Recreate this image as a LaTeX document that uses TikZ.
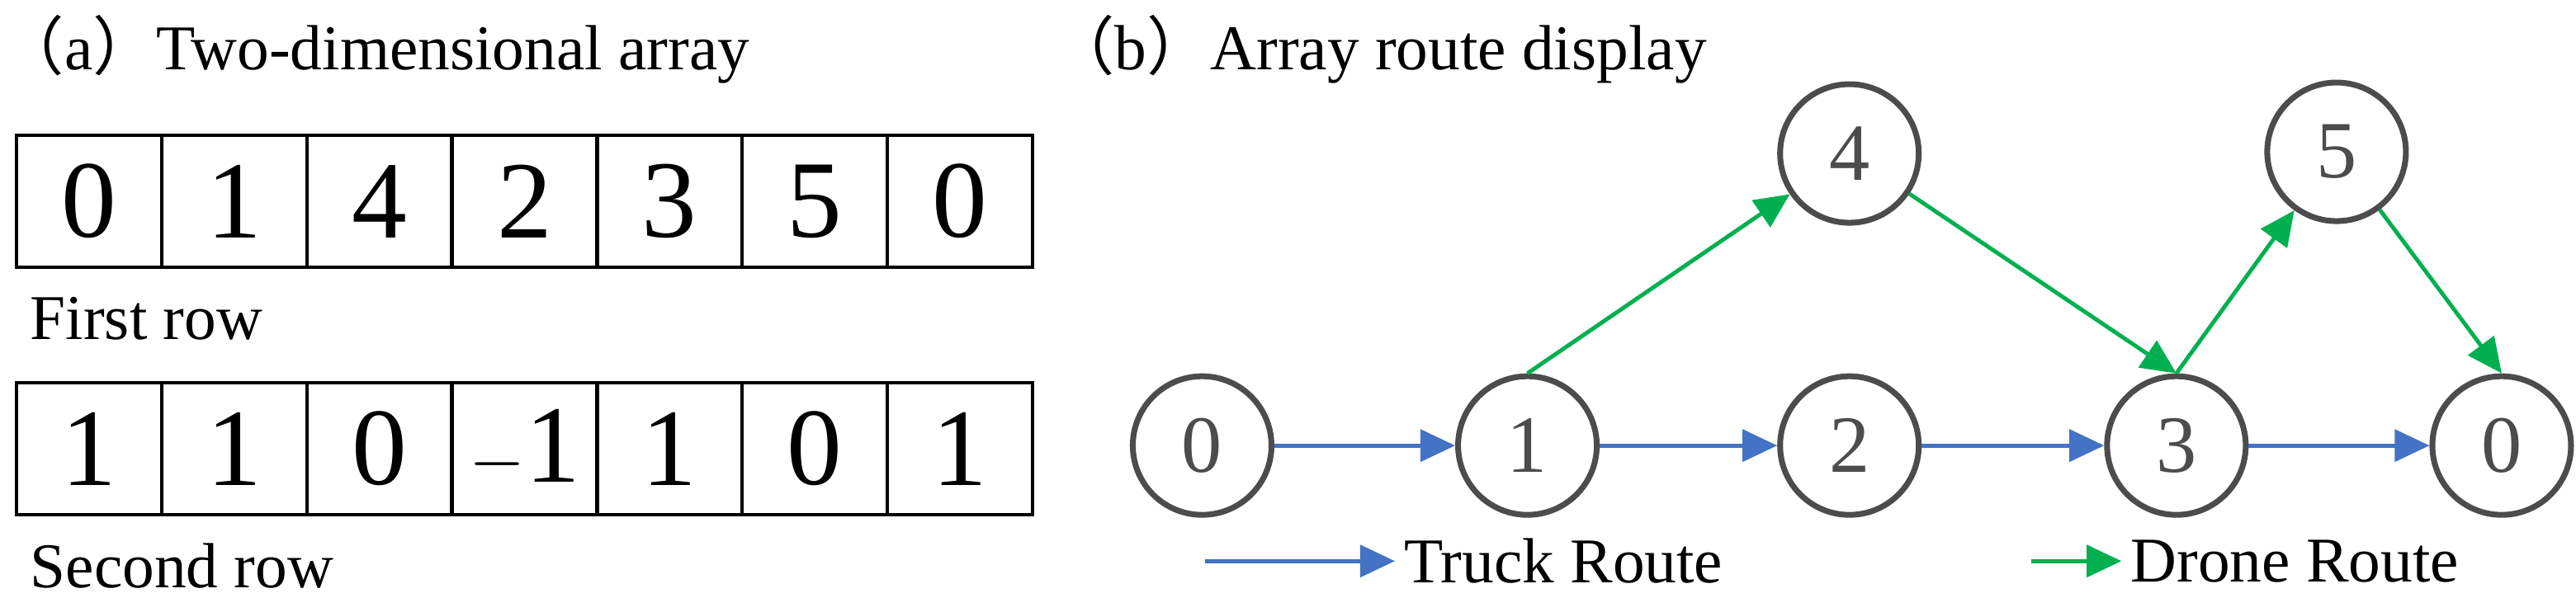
\documentclass[tikz,border=0pt]{standalone}
\usepackage{fontspec}
\setmainfont{Liberation Serif}
\newfontfamily\cjk{Noto Sans CJK SC}
\usetikzlibrary{positioning,arrows.meta}
\definecolor{truck}{HTML}{4472C4}
\definecolor{drone}{HTML}{00B050}
\tikzset{
  cell/.style={draw, line width=1.2pt, minimum width=1.76cm, minimum height=1.6cm, inner sep=0pt, font=\fontsize{38}{38}\selectfont},
  stop/.style={draw=black!70, line width=2pt, circle, minimum size=1.68cm, inner sep=0pt, text=black!70, font=\fontsize{28}{28}\selectfont},
  lbl/.style={anchor=west, inner sep=0pt, font=\fontsize{22}{24}\selectfont},
  truckarr/.style={truck, line width=1.4pt, -{Triangle[length=12pt,width=11pt]}},
  dronearr/.style={drone, line width=1.4pt, -{Triangle[length=12pt,width=11pt]}}
}
\begin{document}
\begin{tikzpicture}[x=0.02cm,y=-0.02cm]
  \useasboundingbox (0,0) rectangle (1560,362);
  % (a) array
  \node[lbl] (ta) at (0,30) {{\cjk （}a{\cjk ）}Two-dimensional array};
  \foreach \v [count=\i] in {0,1,4,2,3,5,0}
    \node[cell] (r\i) at ({10+87.9*(\i-0.5)},122) {\v};
  \node[lbl] (fr) at (18,193) {First row};
  \foreach \v [count=\i] in {1,1,0,$-$1,1,0,1}
    \node[cell] (s\i) at ({10+87.9*(\i-0.5)},272) {\v};
  \node[lbl] (sr) at (18,343) {Second row};
  % (b) route
  \node[lbl] (tb) at (636,30) {{\cjk （}b{\cjk ）}Array route display};
  \node[stop] (n0) at (728,270) {0};
  \node[stop] (n1) at (925,270) {1};
  \node[stop] (n2) at (1120,270) {2};
  \node[stop] (n3) at (1318,270) {3};
  \node[stop] (n0b) at (1515,270) {0};
  \node[stop] (n4) at (1120,93) {4};
  \node[stop] (n5) at (1415,92) {5};
  \draw[truckarr] (n0) -- (n1);
  \draw[truckarr] (n1) -- (n2);
  \draw[truckarr] (n2) -- (n3);
  \draw[truckarr] (n3) -- (n0b);
  \draw[dronearr] (n1.north) -- (n4);
  \draw[dronearr] (n4) -- (n3.north);
  \draw[dronearr] (n3.north) -- (n5);
  \draw[dronearr] (n5) -- (n0b.north);
  % legend
  \coordinate (ta1) at (730,340);
  \node[lbl] (tt) at (850,340) {Truck Route};
  \draw[truckarr] (ta1) -- ([xshift=-3pt]tt.west);
  \coordinate (da1) at (1230,340);
  \node[lbl] (dt) at (1290,340) {Drone Route};
  \draw[dronearr] (da1) -- ([xshift=-3pt]dt.west);
\end{tikzpicture}
\end{document}
